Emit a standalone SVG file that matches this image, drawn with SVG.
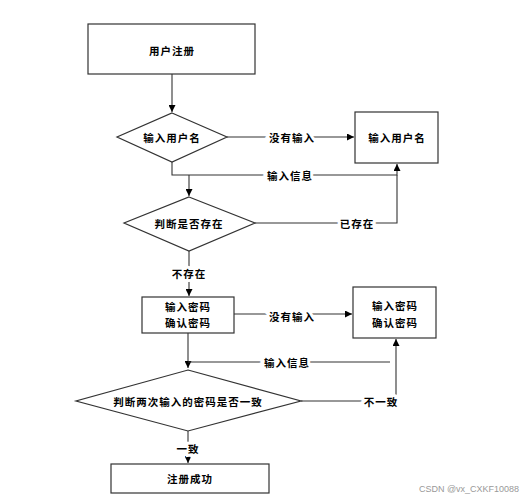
<svg xmlns="http://www.w3.org/2000/svg" width="524" height="503" viewBox="0 0 524 503">
<style>
.n{fill:#fff;stroke:#333;stroke-width:1.2}
.t{font-family:"Noto Sans CJK SC","Liberation Sans",sans-serif;font-size:10.5px;font-weight:bold;fill:#000;text-anchor:middle;dominant-baseline:central;letter-spacing:1px}
.l{fill:none;stroke:#333;stroke-width:1.1}
.lb{paint-order:stroke;stroke:#fff;stroke-width:6px}
</style>
<defs>
<marker id="a" viewBox="0 0 10 10" refX="10" refY="5" markerWidth="7" markerHeight="7" markerUnits="userSpaceOnUse" orient="auto">
<path d="M0,0L10,5L0,10z" fill="#000"/>
</marker>
</defs>
<rect width="524" height="503" fill="#fff"/>
<g id="connectors">
<path class="l" d="M172,74V112" marker-end="url(#a)"/>
<path class="l" d="M227,137H354" marker-end="url(#a)"/>
<path class="l" d="M172,162V175H397V164" marker-end="url(#a)"/>
<path class="l" d="M189,175V196" marker-end="url(#a)"/>
<path class="l" d="M255,223H397V175"/>
<path class="l" d="M189,251V296" marker-end="url(#a)"/>
<path class="l" d="M234,314H352" marker-end="url(#a)"/>
<path class="l" d="M188,333V368" marker-end="url(#a)"/>
<path class="l" d="M390,362H188"/>
<path class="l" d="M301,401H396V339" marker-end="url(#a)"/>
<path class="l" d="M188,431V463" marker-end="url(#a)"/>
<text class="t lb" x="292" y="137">没有输入</text>
<text class="t lb" x="290" y="175">输入信息</text>
<text class="t lb" x="357" y="223">已存在</text>
<text class="t lb" x="189" y="273">不存在</text>
<text class="t lb" x="292" y="316">没有输入</text>
<text class="t lb" x="287" y="362">输入信息</text>
<text class="t lb" x="381" y="401">不一致</text>
<text class="t lb" x="188" y="448">一致</text>
</g>
<g id="n1"><rect class="n" x="88" y="24" width="167" height="50"/><text class="t" x="172" y="50">用户注册</text></g>
<g id="n2"><path class="n" d="M172,113L227,137L172,162L117,137Z"/><text class="t" x="172" y="137">输入用户名</text></g>
<g id="n3"><rect class="n" x="355" y="112" width="83" height="51"/><text class="t" x="397" y="137">输入用户名</text></g>
<g id="n4"><path class="n" d="M189,197L255,223L189,251L124,223Z"/><text class="t" x="189" y="223">判断是否存在</text></g>
<g id="n5"><rect class="n" x="142" y="297" width="92" height="36"/><text class="t" x="188" y="306">输入密码</text><text class="t" x="188" y="322">确认密码</text></g>
<g id="n6"><rect class="n" x="353" y="287" width="83" height="51"/><text class="t" x="395" y="305">输入密码</text><text class="t" x="395" y="322">确认密码</text></g>
<g id="n7"><path class="n" d="M188,370L301,401L188,431L76,401Z"/><text class="t" x="188" y="401">判断两次输入的密码是否一致</text></g>
<g id="n8"><rect class="n" x="111" y="464" width="158" height="29"/><text class="t" x="190" y="478">注册成功</text></g>
<text x="469" y="492" font-family="Liberation Sans, sans-serif" font-size="9" fill="#999" text-anchor="middle">CSDN @vx_CXKF10088</text>
</svg>
